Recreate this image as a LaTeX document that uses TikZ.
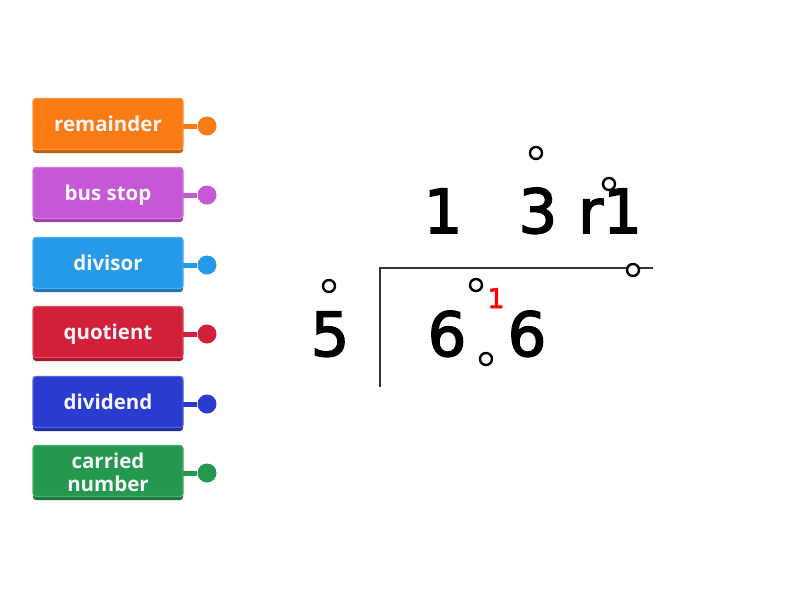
\documentclass[tikz,border=0pt]{standalone}
\usepackage{fontspec}
\setmainfont{Open Sans}
\newfontfamily\digitfont[FakeBold=2.5]{DejaVu Sans}
\definecolor{cOrange}{HTML}{FA7A14}
\definecolor{cPurple}{HTML}{C657D6}
\definecolor{cBlue}{HTML}{259AE8}
\definecolor{cRed}{HTML}{D41F3A}
\definecolor{cNavy}{HTML}{2A3BD0}
\definecolor{cGreen}{HTML}{24984F}
\definecolor{cLine}{HTML}{333333}
\tikzset{
  btnshadow/.style={rounded corners=3pt},
  btn/.style={rectangle, rounded corners=3pt, minimum width=150pt, minimum height=51pt,
    inner sep=0pt},
  btntext/.style={font=\fontsize{20.5}{23}\selectfont\bfseries, text=white!96!black,
    align=center, inner sep=0pt, anchor=base},
  pin/.style={circle, minimum size=19pt, inner sep=0pt},
  pinline/.style={line width=5pt},
  target/.style={circle, draw=black, fill=white, line width=2.4pt, minimum size=12pt, inner sep=0pt},
  digit/.style={anchor=base, inner sep=0pt, font=\digitfont\fontsize{61}{61}\selectfont},
  bar/.style={draw=cLine, line width=2pt}
}
\begin{document}
\begin{tikzpicture}[x=1pt,y=-1pt]
\useasboundingbox[fill=white] (0,0) rectangle (800,600);
\foreach \nm/\txt/\col/\y/\dy in {rem/remainder/cOrange/126/0, bus/bus stop/cPurple/195/0, div/divisor/cBlue/265/0, quo/quotient/cRed/334/0, dvd/dividend/cNavy/404/0, car/{carried\\number}/cGreen/473/13}{
  \fill[\col!78!black, btnshadow] (33,\y-28) rectangle (183,\y+27);
  \node[btn, fill=\col, draw=\col!80!white, line width=1.2pt] (\nm) at (108,\y-2) {};
  \node[btntext] (\nm txt) at (108,\y+5+\dy) {\txt};
  \node[pin, fill=\col] (\nm pin) at (207,\y) {};
  \draw[pinline, \col] (183,\y) -- (\nm pin);
}
% long division picture
\node[digit] (q1) at (443,233) {1};
\node[digit] (q3) at (538,233) {3};
\node[digit] (qr) at (610,233) {r1};
\node[digit] (dv) at (330,356) {5};
\node[digit] (d1) at (447,356) {6};
\node[digit] (d2) at (527,356) {6};
\node[anchor=base, inner sep=0pt, text=red, font=\digitfont\fontsize{27}{27}\selectfont] (cr) at (496,308) {1};
\coordinate (corner) at (380,268);
\coordinate (barend) at (653,268);
\coordinate (barbot) at (380,387);
\draw[bar] (barend) -- (corner) -- (barbot);
% targets
\node[target] (t1) at (536,153) {};
\node[target] (t2) at (609,184) {};
\node[target] (t3) at (633,270) {};
\node[target] (t4) at (329,286) {};
\node[target] (t5) at (476,285) {};
\node[target] (t6) at (486,359) {};
\end{tikzpicture}
\end{document}
